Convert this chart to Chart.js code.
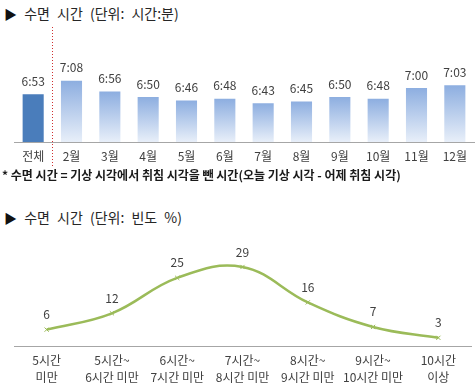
<!DOCTYPE html>
<html>
<head>
<meta charset="utf-8">
<script src="https://cdn.jsdelivr.net/npm/chart.js@4"></script>
<style>
  body { margin: 0; background: #fff; font-family: "Noto Sans CJK KR", sans-serif; }
  #wrap { position: relative; width: 476px; height: 390px; overflow: hidden; }
  .title { position: absolute; left: 4px; font-size: 14px; color: #262626; word-spacing: 4px; white-space: nowrap; }
  .title .arrow { color: #111; font-size: 13px; }
  .note { position: absolute; left: 2px; top: 166px; font-size: 12px; font-weight: bold; color: #1a1a1a; white-space: nowrap; }
  canvas { position: absolute; left: 0; }
</style>
</head>
<body>
<div id="wrap">
  <div class="title" style="top:3px;"><span class="arrow">▶</span> 수면 시간 (단위: 시간:분)</div>
  <canvas id="barChart" width="476" height="150" style="top:20px;"></canvas>
  <div class="note">* 수면 시간 = 기상 시각에서 취침 시각을 뺀 시간(오늘 기상 시각 - 어제 취침 시각)</div>
  <div class="title" style="top:207px;"><span class="arrow">▶</span> 수면 시간 (단위: 빈도 %)</div>
  <canvas id="lineChart" width="476" height="165" style="top:225px;"></canvas>
</div>
<script>
//****DATA****//

var months = ['전체', '2월', '3월', '4월', '5월', '6월', '7월', '8월', '9월', '10월', '11월', '12월'];
// sleep time in minutes (6:53 -> 413)
var sleepMinutes = [413, 428, 416, 410, 406, 408, 403, 405, 410, 408, 420, 423];

var sleepRanges = [
  ['5시간', '미만'],
  ['5시간~', '6시간 미만'],
  ['6시간~', '7시간 미만'],
  ['7시간~', '8시간 미만'],
  ['8시간~', '9시간 미만'],
  ['9시간~', '10시간 미만'],
  ['10시간', '이상']
];
var rangeShares = [6, 12, 25, 29, 16, 7, 3];

//****HELPERS****//

var labelFont = '"Noto Sans CJK KR", sans-serif';
var textColor = '#404040';

function toClock(min) {
  var h = Math.floor(min / 60);
  var m = min % 60;
  return h + ':' + (m < 10 ? '0' + m : m);
}

function barFill(context) {
  var chart = context.chart;
  if (context.dataIndex === 0) return '#4a7dbb';
  if (!chart.chartArea || !chart.scales.y) return '#a9c0e4';
  var yScale = chart.scales.y;
  var top = yScale.getPixelForValue(context.raw);
  var bottom = yScale.getPixelForValue(yScale.min);
  var grad = chart.ctx.createLinearGradient(0, top, 0, bottom);
  grad.addColorStop(0, '#8daee0');
  grad.addColorStop(1, '#e8eff9');
  return grad;
}

var valueLabels = {
  id: 'valueLabels',
  afterDatasetsDraw: function (chart, args, opts) {
    var ctx = chart.ctx;
    var meta = chart.getDatasetMeta(0);
    ctx.save();
    ctx.font = '12px ' + labelFont;
    ctx.fillStyle = textColor;
    ctx.textAlign = 'center';
    ctx.textBaseline = 'middle';
    meta.data.forEach(function (el, i) {
      var v = chart.data.datasets[0].data[i];
      ctx.fillText(opts.format(v), el.x, el.y - opts.gap);
    });
    ctx.restore();
  }
};

var splitLine = {
  id: 'splitLine',
  afterDraw: function (chart) {
    var x = chart.scales.x;
    var xPos = (x.getPixelForValue(0) + x.getPixelForValue(1)) / 2;
    var ctx = chart.ctx;
    ctx.save();
    ctx.strokeStyle = '#d03030';
    ctx.lineWidth = 1;
    ctx.setLineDash([1, 2]);
    ctx.beginPath();
    ctx.moveTo(Math.round(xPos) + 0.5, chart.chartArea.top - 7);
    ctx.lineTo(Math.round(xPos) + 0.5, chart.chartArea.bottom + 25);
    ctx.stroke();
    ctx.restore();
  }
};

//****BAR CHART****//

new Chart(document.getElementById('barChart'), {
  type: 'bar',
  data: {
    labels: months,
    datasets: [{
      data: sleepMinutes,
      backgroundColor: barFill,
      categoryPercentage: 1,
      barPercentage: 0.55
    }]
  },
  options: {
    responsive: false,
    animation: false,
    layout: { padding: { top: 14, left: 14, right: 2, bottom: 0 } },
    plugins: {
      legend: { display: false },
      tooltip: { enabled: false },
      valueLabels: { gap: 13, format: toClock }
    },
    scales: {
      x: {
        grid: { display: false, drawTicks: false },
        border: { display: true, color: '#a6a6a6', width: 1 },
        ticks: { color: textColor, font: { family: labelFont, size: 12 }, padding: 7 },
        afterFit: function (scale) { scale.height = 28; }
      },
      y: { display: false, min: 360, max: 480 }
    }
  },
  plugins: [valueLabels, splitLine]
});

//****LINE CHART****//

new Chart(document.getElementById('lineChart'), {
  type: 'line',
  data: {
    labels: sleepRanges,
    datasets: [{
      data: rangeShares,
      borderColor: '#9bbb59',
      borderWidth: 2.5,
      tension: 0.4,
      fill: false,
      pointStyle: 'crossRot',
      pointRadius: 3,
      pointBorderWidth: 1,
      pointBorderColor: '#9bbb59'
    }]
  },
  options: {
    responsive: false,
    animation: false,
    layout: { padding: { top: 12, left: 14, right: 2, bottom: 0 } },
    plugins: {
      legend: { display: false },
      tooltip: { enabled: false },
      valueLabels: { gap: 15, format: function (v) { return String(v); } }
    },
    scales: {
      x: {
        offset: true,
        grid: { display: false, drawTicks: false },
        border: { display: true, color: '#a6a6a6', width: 1 },
        ticks: { color: textColor, font: { family: labelFont, size: 12, lineHeight: 1.4 }, padding: 6, maxRotation: 0, autoSkip: false },
        afterFit: function (scale) { scale.height = 44; }
      },
      y: { display: false, min: 0, max: 40 }
    }
  },
  plugins: [valueLabels]
});
</script>
</body>
</html>
